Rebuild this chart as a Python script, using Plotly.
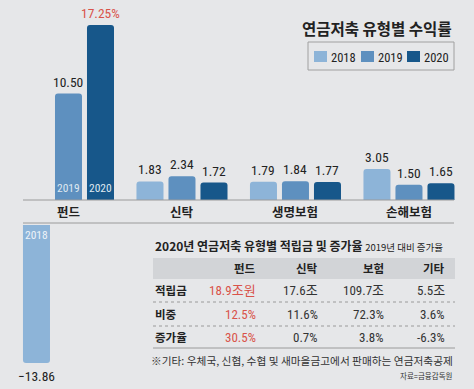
import plotly.graph_objects as go

W, H = 474, 389

categories = ["펀드", "신탁", "생명보험", "손해보험"]
years = ["2018", "2019", "2020"]
returns_2018 = [-13.86, 1.83, 1.79, 3.05]
returns_2019 = [10.50, 2.34, 1.84, 1.50]
returns_2020 = [17.25, 1.72, 1.77, 1.65]
series = [returns_2018, returns_2019, returns_2020]
colors = ["#8db4d8", "#5e90bf", "#17578a"]

tbl_cols = ["펀드", "신탁", "보험", "기타"]
tbl_rows = ["적립금", "비중", "증가율"]
tbl_values = [
    ["18.9조원", "17.6조", "109.7조", "5.5조"],
    ["12.5%", "11.6%", "72.3%", "3.6%"],
    ["30.5%", "0.7%", "3.8%", "-6.3%"],
]

BG = "#e6e7e9"
RED = "#d9534a"
DARK = "#222222"
KR = "Noto Sans CJK KR, Noto Sans, sans-serif"
NUM = "Liberation Sans Narrow, Roboto Condensed, Liberation Sans, Noto Sans CJK KR, sans-serif"


def px(x):
    return x / W


def py(y):
    return 1 - y / H


fig = go.Figure()
for sub in ["y", "y2"]:
    for yr, vals, c in zip(years, series, colors):
        fig.add_trace(go.Bar(
            x=categories, y=vals, name=yr, marker=dict(color=c, line=dict(width=0), cornerradius=3),
            yaxis=sub, showlegend=False, hoverinfo="skip",
        ))

SCALE = 10.14  # px per unit
top_max = 200 / SCALE
y2_top = -13.86 + (363 - 225) / SCALE
y2_bot = -13.86 - (389 - 363) / SCALE

annotations = []
shapes = []

# value labels
offsets = [-32, 0, 32]
for k, (vals, off) in enumerate(zip(series, offsets)):
    for j, v in enumerate(vals):
        if v >= 0:
            txt = f"{v:.2f}"
            col = DARK
            if j == 0 and k == 2:
                txt += "%"
                col = RED
            annotations.append(dict(x=categories[j], y=v, xref="x", yref="y", xshift=off, yshift=2,
                                    yanchor="bottom", text=txt, showarrow=False,
                                    font=dict(family=NUM, size=13.5, color=col)))
        else:
            annotations.append(dict(x=categories[j], y=v, xref="x", yref="y2", xshift=off, yshift=-3,
                                    yanchor="top", text=f"{v:.2f}".replace("-", "−"), showarrow=False,
                                    font=dict(family=NUM, size=13.5, color=DARK)))

# year labels inside the fund bars
for k, off in enumerate(offsets):
    v = series[k][0]
    if v >= 0:
        annotations.append(dict(x=categories[0], y=0, xref="x", yref="y", xshift=off, yshift=3,
                                yanchor="bottom", text=years[k], showarrow=False,
                                font=dict(family=NUM, size=11.5, color="#dfe8f1")))
    else:
        annotations.append(dict(x=categories[0], y=py(235), xref="x", yref="paper", xshift=off,
                                yanchor="middle", text=years[k], showarrow=False,
                                font=dict(family=NUM, size=11.5, color="#eef3f8")))

# category labels
for c in categories:
    annotations.append(dict(x=c, y=py(212), xref="x", yref="paper", yanchor="middle",
                            text=f"<b>{c}</b>", showarrow=False,
                            font=dict(family=KR, size=12.5, color=DARK)))

# baseline and separator
for yy in [200, 223]:
    shapes.append(dict(type="line", xref="paper", yref="paper", x0=px(23), x1=px(454),
                       y0=py(yy), y1=py(yy), line=dict(color="#9a9a9a", width=1)))

# chart title
annotations.append(dict(x=px(454), y=py(28), xref="paper", yref="paper", xanchor="right",
                        yanchor="middle", text="<b>연금저축 유형별 수익률</b>", showarrow=False,
                        font=dict(family=KR, size=15.5, color=DARK)))

# legend box
shapes.append(dict(type="rect", xref="paper", yref="paper", x0=px(308), x1=px(454),
                   y0=py(70), y1=py(42), line=dict(color="#a0a0a0", width=1), fillcolor="rgba(0,0,0,0)"))
leg_x = [314, 361, 407]
for yr, c, lx in zip(years, colors, leg_x):
    shapes.append(dict(type="rect", xref="paper", yref="paper", x0=px(lx), x1=px(lx + 13),
                       y0=py(62), y1=py(51), line=dict(width=0), fillcolor=c))
    annotations.append(dict(x=px(lx + 15), y=py(57), xref="paper", yref="paper", xanchor="left",
                            yanchor="middle", text=yr, showarrow=False,
                            font=dict(family=NUM, size=12.5, color=DARK)))

# table title
annotations.append(dict(x=px(153), y=py(245), xref="paper", yref="paper", xanchor="left",
                        yanchor="middle",
                        text="<b>2020년 연금저축 유형별 적립금 및 증가율</b> <span style='font-size:9.5px'>2019년 대비 증가율</span>",
                        showarrow=False, font=dict(family=KR, size=12, color=DARK)))

# table header band
shapes.append(dict(type="rect", xref="paper", yref="paper", x0=px(153), x1=px(455),
                   y0=py(279), y1=py(258), line=dict(width=0), fillcolor="#d2d4d7"))
col_right = [258, 320, 386, 447]
for name, xr in zip(tbl_cols, col_right):
    annotations.append(dict(x=px(xr), y=py(268), xref="paper", yref="paper", xanchor="right",
                            yanchor="middle", text=f"<b>{name}</b>", showarrow=False,
                            font=dict(family=KR, size=11.5, color=DARK)))
row_y = [290, 314, 337]
for r, (rname, yy) in enumerate(zip(tbl_rows, row_y)):
    annotations.append(dict(x=px(153), y=py(yy), xref="paper", yref="paper", xanchor="left",
                            yanchor="middle", text=f"<b>{rname}</b>", showarrow=False,
                            font=dict(family=KR, size=11.5, color=DARK)))
    for cidx, xr in enumerate(col_right):
        val = tbl_values[r][cidx]
        annotations.append(dict(x=px(xr), y=py(yy), xref="paper", yref="paper", xanchor="right",
                                yanchor="middle", text=val, showarrow=False,
                                font=dict(family=NUM, size=13, color=RED if cidx == 0 else "#333333")))
for yy in [302, 326]:
    shapes.append(dict(type="line", xref="paper", yref="paper", x0=px(153), x1=px(455),
                       y0=py(yy), y1=py(yy), line=dict(color="#9a9a9a", width=1, dash="dot")))
shapes.append(dict(type="line", xref="paper", yref="paper", x0=px(153), x1=px(455),
                   y0=py(348), y1=py(348), line=dict(color="#9a9a9a", width=1)))

# footnotes
annotations.append(dict(x=px(455), y=py(360), xref="paper", yref="paper", xanchor="right",
                        yanchor="middle", text="※기타: 우체국, 신협, 수협 및 새마을금고에서 판매하는 연금저축공제",
                        showarrow=False, font=dict(family=KR, size=10.7, color="#333333")))
annotations.append(dict(x=px(455), y=py(375), xref="paper", yref="paper", xanchor="right",
                        yanchor="middle", text="자료=금융감독원",
                        showarrow=False, font=dict(family=KR, size=7.5, color="#333333")))

fig.update_layout(
    width=W, height=H,
    margin=dict(l=0, r=0, t=0, b=0, pad=0),
    paper_bgcolor=BG, plot_bgcolor="rgba(0,0,0,0)",
    barmode="group", bargap=0.154, bargroupgap=0.156,
    xaxis=dict(domain=[0, 1], range=[-0.6035, 3.573], visible=False, anchor="y", fixedrange=True),
    yaxis=dict(domain=[py(200), 1], range=[0, top_max], visible=False, anchor="x", fixedrange=True),
    yaxis2=dict(domain=[0, py(225)], range=[y2_bot, y2_top], visible=False, anchor="x", fixedrange=True),
    annotations=annotations, shapes=shapes,
    showlegend=False,
    hovermode=False,
)

fig.write_html("out.html", config={"displayModeBar": False, "staticPlot": True},
               post_script="document.body.style.margin='0';document.body.style.overflow='hidden';")
